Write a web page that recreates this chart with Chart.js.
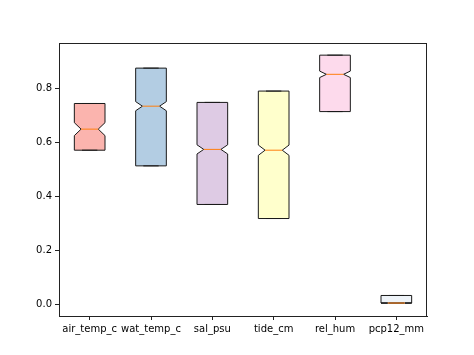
<!DOCTYPE html>
<html><head><meta charset="utf-8">
<script src="https://cdn.jsdelivr.net/npm/chart.js@4/dist/chart.umd.min.js"></script>
<style>html,body{margin:0;padding:0;background:#fff}#wrap{width:474px;height:355px}</style>
</head><body><div id="wrap"><canvas id="c" width="474" height="355"></canvas></div>
<script>
const categories = ['air_temp_c','wat_temp_c','sal_psu','tide_cm','rel_hum','pcp12_mm'];
const q1Values = [0.570, 0.512, 0.369, 0.317, 0.713, 0.004];
const medianValues = [0.648, 0.733, 0.573, 0.570, 0.851, 0.004];
const q3Values = [0.743, 0.874, 0.747, 0.789, 0.922, 0.032];
const notchLow = [0.624, 0.716, 0.556, 0.551, 0.839, 0.004];
const notchHigh = [0.672, 0.750, 0.590, 0.589, 0.863, 0.004];
const yTickValues = [0.0, 0.2, 0.4, 0.6, 0.8];
const boxColors = ['#fbb4ae','#b3cde3','#decbe4','#ffffcc','#fddaec','#eef3f8'];

const boxPlugin = {
  id: 'notchedBoxes',
  afterDatasetsDraw(chart) {
    const ctx = chart.ctx, y = chart.scales.y;
    const meta = chart.getDatasetMeta(0);
    ctx.save();
    meta.data.forEach((bar, i) => {
      const cx = bar.x, w = bar.width;
      const L = cx - w/2, R = cx + w/2;
      const nL = cx - w*0.28, nR = cx + w*0.28;
      const yq1 = y.getPixelForValue(q1Values[i]);
      const yq3 = y.getPixelForValue(q3Values[i]);
      const ym = y.getPixelForValue(medianValues[i]);
      const ylo = y.getPixelForValue(notchLow[i]);
      const yhi = y.getPixelForValue(notchHigh[i]);
      ctx.beginPath();
      ctx.moveTo(L, yq1); ctx.lineTo(R, yq1); ctx.lineTo(R, ylo); ctx.lineTo(nR, ym);
      ctx.lineTo(R, yhi); ctx.lineTo(R, yq3); ctx.lineTo(L, yq3); ctx.lineTo(L, yhi);
      ctx.lineTo(nL, ym); ctx.lineTo(L, ylo); ctx.closePath();
      ctx.fillStyle = boxColors[i]; ctx.fill();
      ctx.strokeStyle = '#1a1a1a'; ctx.lineWidth = 1; ctx.stroke();
      ctx.beginPath();
      ctx.moveTo(cx - w*0.25, yq1); ctx.lineTo(cx + w*0.25, yq1);
      ctx.moveTo(cx - w*0.25, yq3); ctx.lineTo(cx + w*0.25, yq3);
      ctx.stroke();
      ctx.beginPath();
      ctx.moveTo(nL, ym); ctx.lineTo(nR, ym);
      ctx.strokeStyle = '#ff7f0e'; ctx.lineWidth = 1; ctx.stroke();
    });
    const a = chart.chartArea;
    ctx.strokeStyle = '#222'; ctx.lineWidth = 1;
    ctx.strokeRect(Math.round(a.left)+0.5, Math.round(a.top)+0.5, Math.round(a.right-a.left)-1, Math.round(a.bottom-a.top));
    ctx.restore();
  }
};

new Chart(document.getElementById('c'), {
  type: 'bar',
  data: {
    labels: categories,
    datasets: [{
      data: categories.map((_, i) => [q1Values[i], q3Values[i]]),
      backgroundColor: 'rgba(0,0,0,0)', borderWidth: 0,
      barPercentage: 0.5, categoryPercentage: 1.0
    }]
  },
  options: {
    responsive: false, animation: false,
    layout: { padding: { top: 43, right: 47, left: 0, bottom: 0 } },
    plugins: { legend: { display: false }, tooltip: { enabled: false } },
    scales: {
      x: {
        grid: { display: true, offset: false, drawOnChartArea: false, drawTicks: true, tickLength: 4, color: '#222' },
        border: { display: true, color: '#222' },
        ticks: { color: '#000', font: { family: 'DejaVu Sans', size: 10 }, padding: 3, maxRotation: 0, autoSkip: false },
        afterFit(s) { s.height = 39; }
      },
      y: {
        min: -0.044, max: 0.967,
        grid: { display: true, drawOnChartArea: false, drawTicks: true, tickLength: 4, color: '#222' },
        border: { display: true, color: '#222' },
        ticks: { color: '#000', font: { family: 'DejaVu Sans', size: 10 }, padding: 3,
          callback: v => Number(v).toFixed(1) },
        afterBuildTicks(s) { s.ticks = yTickValues.map(v => ({ value: v })); },
        afterFit(s) { s.width = 59; }
      }
    }
  },
  plugins: [boxPlugin]
});
</script></body></html>
